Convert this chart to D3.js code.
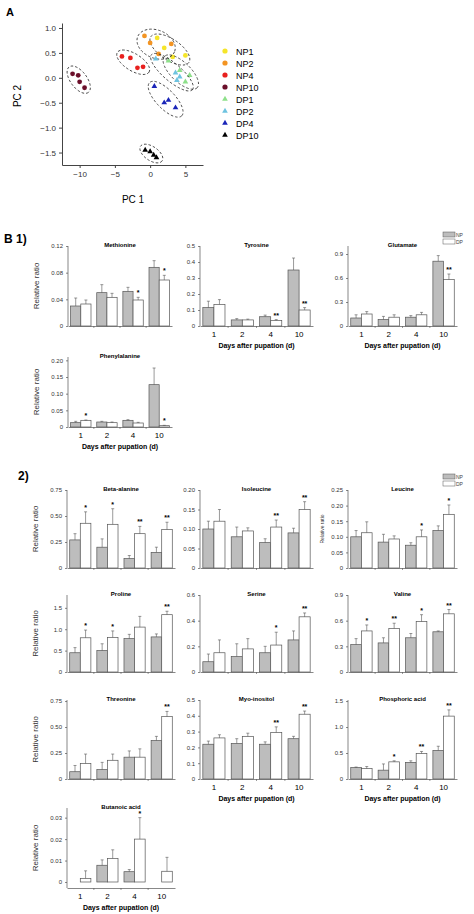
<!DOCTYPE html>
<html><head><meta charset="utf-8">
<script src="https://cdn.jsdelivr.net/npm/d3@7"></script>
<style>body{margin:0;background:#fff}text{font-family:Arial,"Liberation Sans",sans-serif}</style>
</head><body><svg id="c" width="474" height="914"></svg>
<script>
// PCA groups
const groups = ["NP1","NP2","NP4","NP10","DP1","DP2","DP4","DP10"];
const groupColors = ["#f5e52a","#f39422","#e8201e","#6b0f2a","#8ee08a","#6ec3e0","#1a25b8","#000000"];
const pcaPoints = [
  [[1,0.8],[2,0.6],[3.2,0.42],[5,0.45]],
  [[-0.8,0.84],[0,0.7],[1.2,0.48],[3,0.68]],
  [[-4,0.43],[-2.8,0.4],[-1.8,0.2],[-1,0.22]],
  [[-11,0.08],[-10.2,0.05],[-10,-0.08],[-9.3,-0.2]],
  [[2.6,0.34],[4.2,0.15],[5.6,0.05],[5,-0.08]],
  [[0.8,0.38],[3.6,0.1],[3.8,-0.05],[4.2,0.02]],
  [[0.6,-0.17],[2,-0.5],[2.6,-0.45],[3.6,-0.6]],
  [[-0.7,-1.45],[0,-1.48],[0.5,-1.55],[0.9,-1.6]]
];
const days = ["1","2","4","10"];

// bar panels: name, NP, NPerr, DP, DPerr, sig
const panels = [
  {name:"Methionine", np:[0.030,0.050,0.052,0.088], npe:[0.012,0.012,0.006,0.010], dp:[0.033,0.043,0.039,0.069], dpe:[0.006,0.006,0.004,0.007], sig:["","","*","*"], ticks:[0,0.04,0.08,0.12], max:0.12},
  {name:"Tyrosine", np:[0.115,0.038,0.058,0.35], npe:[0.04,0.008,0.01,0.075], dp:[0.135,0.038,0.035,0.10], dpe:[0.03,0.005,0.005,0.015], sig:["","","**","**"], ticks:[0,0.1,0.2,0.3,0.4,0.5], max:0.5},
  {name:"Glutamate", np:[0.10,0.08,0.11,0.81], npe:[0.04,0.04,0.02,0.07], dp:[0.15,0.11,0.14,0.58], dpe:[0.03,0.03,0.03,0.07], sig:["","","","**"], ticks:[0,0.3,0.6,0.9], max:1.0},
  {name:"Phenylalanine", np:[0.013,0.015,0.02,0.127], npe:[0.004,0.002,0.002,0.05], dp:[0.02,0.013,0.012,0.004], dpe:[0.001,0.002,0.002,0.001], sig:["*","","","*"], ticks:[0,0.05,0.10,0.15,0.20], max:0.21},
  {name:"Beta-alanine", np:[0.27,0.20,0.09,0.15], npe:[0.06,0.08,0.03,0.05], dp:[0.43,0.42,0.33,0.37], dpe:[0.11,0.15,0.07,0.07], sig:["*","*","**","**"], ticks:[0,0.25,0.5,0.75], max:0.75},
  {name:"Isoleucine", np:[0.10,0.08,0.065,0.09], npe:[0.02,0.025,0.01,0.012], dp:[0.12,0.095,0.105,0.15], dpe:[0.03,0.008,0.018,0.02], sig:["","","**","**"], ticks:[0,0.05,0.10,0.15,0.20], max:0.2},
  {name:"Leucine", np:[0.10,0.083,0.073,0.12], npe:[0.02,0.025,0.008,0.015], dp:[0.113,0.093,0.10,0.172], dpe:[0.035,0.01,0.022,0.03], sig:["","","*","*"], ticks:[0,0.05,0.10,0.15,0.20,0.25], max:0.25},
  {name:"Proline", np:[0.45,0.50,0.78,0.82], npe:[0.12,0.16,0.1,0.07], dp:[0.80,0.81,1.05,1.34], dpe:[0.18,0.15,0.25,0.08], sig:["*","*","","**"], ticks:[0,0.5,1.0,1.5], max:1.8},
  {name:"Serine", np:[0.08,0.12,0.15,0.25], npe:[0.06,0.1,0.05,0.07], dp:[0.15,0.18,0.21,0.43], dpe:[0.1,0.08,0.1,0.03], sig:["","","*","**"], ticks:[0,0.2,0.4,0.6], max:0.6},
  {name:"Valine", np:[0.32,0.34,0.40,0.47], npe:[0.07,0.06,0.05,0.01], dp:[0.48,0.51,0.59,0.68], dpe:[0.07,0.06,0.08,0.05], sig:["*","**","*","**"], ticks:[0,0.3,0.6,0.9], max:0.9},
  {name:"Threonine", np:[0.07,0.09,0.21,0.37], npe:[0.06,0.07,0.06,0.04], dp:[0.15,0.18,0.21,0.60], dpe:[0.09,0.06,0.08,0.05], sig:["","","","**"], ticks:[0,0.25,0.5,0.75], max:0.76},
  {name:"Myo-inositol", np:[0.22,0.225,0.22,0.255], npe:[0.02,0.03,0.015,0.015], dp:[0.26,0.27,0.295,0.41], dpe:[0.02,0.02,0.035,0.02], sig:["","","**","**"], ticks:[0,0.1,0.2,0.3,0.4,0.5], max:0.5},
  {name:"Phosphoric acid", np:[0.22,0.17,0.32,0.55], npe:[0.01,0.12,0.03,0.08], dp:[0.20,0.33,0.49,1.21], dpe:[0.04,0.02,0.04,0.12], sig:["","*","**","**"], ticks:[0,0.5,1.0,1.5], max:1.52},
  {name:"Butanoic acid", np:[0,0.0078,0.0048,0], npe:[0,0.0025,0.001,0], dp:[0.0017,0.011,0.02,0.005], dpe:[0.0035,0.004,0.01,0.0065], sig:["","","*",""], ticks:[0,0.01,0.02,0.03], max:0.0345, min:-0.0028}
];
// layout: [x0,x1,yTop,yBottom, showX, showYLabel]
const layout = [
  [68,172,246,326,false,true],[200,313,246,326,true,false],[348,457,246,326,true,false],
  [68,172,357,427,true,true],
  [67,175,490,568,false,true],[200,313,490,568,false,false],[348,457,490,568,false,true],
  [67,175,595,672,false,true],[200,313,595,672,false,false],[348,457,595,672,false,false],
  [67,175,700,779,false,true],[200,313,700,779,true,false],[348,457,700,779,true,false],
  [67,175,808,888,true,true]
];

const svg = d3.select("#c");

// ---- PCA
const x = d3.scaleLinear().domain([-12.5,7.5]).range([62,203]);
const y = d3.scaleLinear().domain([-1.75,1.1]).range([165,23]);
const gA = svg.append("g");
gA.append("g").attr("transform","translate(0,165)").call(d3.axisBottom(x).tickValues([-10,-5,0,5]).tickFormat(d=>d<0?"\u2212"+(-d):d).tickSize(3).tickSizeOuter(0));
gA.append("g").attr("transform","translate(62,0)").call(d3.axisLeft(y).tickValues([-1.5,-1,-0.5,0,0.5,1]).tickFormat(d=>(d<0?"\u2212":"")+Math.abs(d).toFixed(1)).tickSize(3).tickSizeOuter(0));
gA.selectAll(".tick text").attr("font-size",8).attr("fill","#333");
gA.selectAll(".domain,.tick line").attr("stroke","#444");
gA.append("text").attr("x",6).attr("y",16).attr("font-weight","bold").attr("font-size",11).text("A");
gA.append("text").attr("x",133).attr("y",203).attr("text-anchor","middle").attr("font-size",10).text("PC  1");
gA.append("text").attr("transform","translate(21,96) rotate(-90)").attr("text-anchor","middle").attr("font-size",10).text("PC  2");

pcaPoints.forEach((pts,gi)=>{
  const p = pts.map(d=>[x(d[0]),y(d[1])]);
  const cx = d3.mean(p,d=>d[0]), cy = d3.mean(p,d=>d[1]);
  let sxx=0,syy=0,sxy=0;
  p.forEach(d=>{const a=d[0]-cx,b=d[1]-cy;sxx+=a*a;syy+=b*b;sxy+=a*b;});
  const ang = 0.5*Math.atan2(2*sxy,sxx-syy);
  const ca=Math.cos(ang), sa=Math.sin(ang);
  const u = p.map(d=>Math.abs((d[0]-cx)*ca+(d[1]-cy)*sa));
  const v = p.map(d=>Math.abs(-(d[0]-cx)*sa+(d[1]-cy)*ca));
  gA.append("ellipse").attr("cx",cx).attr("cy",cy).attr("rx",d3.max(u)+6).attr("ry",d3.max(v)+6)
    .attr("transform",`rotate(${ang*180/Math.PI},${cx},${cy})`)
    .attr("fill","none").attr("stroke","#333").attr("stroke-width",0.8).attr("stroke-dasharray","2.5,2");
  const tri = gi>=4;
  p.forEach(d=>{
    if(tri) gA.append("path").attr("d",d3.symbol(d3.symbolTriangle,14)()).attr("transform",`translate(${d[0]},${d[1]})`).attr("fill",groupColors[gi]);
    else gA.append("circle").attr("cx",d[0]).attr("cy",d[1]).attr("r",2.4).attr("fill",groupColors[gi]);
  });
  const ly = 51+gi*12;
  if(tri) gA.append("path").attr("d",d3.symbol(d3.symbolTriangle,14)()).attr("transform",`translate(225,${ly})`).attr("fill",groupColors[gi]);
  else gA.append("circle").attr("cx",225).attr("cy",ly).attr("r",2.6).attr("fill",groupColors[gi]);
  gA.append("text").attr("x",236).attr("y",ly+3.5).attr("font-size",9).text(groups[gi]);
});

// ---- section labels
svg.append("text").attr("x",4).attr("y",243).attr("font-weight","bold").attr("font-size",12).text("B 1)");
svg.append("text").attr("x",18).attr("y",480).attr("font-weight","bold").attr("font-size",12).text("2)");
[[232],[474]].forEach(([ly])=>{
  [["NP","#bdbdbd"],["DP","#fff"]].forEach((s,i)=>{
    svg.append("rect").attr("x",443).attr("y",ly+i*7).attr("width",12).attr("height",5).attr("fill",s[1]).attr("stroke","#555").attr("stroke-width",0.5);
    svg.append("text").attr("x",456).attr("y",ly+i*7+4.5).attr("font-size",5).attr("fill","#444").text(s[0]);
  });
});

// ---- bar panels
panels.forEach((P,i)=>{
  const [x0,x1,yt,yb,showX,showY] = layout[i];
  const g = svg.append("g");
  const ys = d3.scaleLinear().domain([P.min||0,P.max]).range([yb,yt]);
  const xb = d3.scaleBand().domain(days).range([x0,x1]).paddingInner(0.22).paddingOuter(0.1);
  const xi = d3.scaleBand().domain(["np","dp"]).range([0,xb.bandwidth()]);
  const twoDec = P.ticks.some(t=>Math.round(t*100)%10!==0);
  const fmt = d=> d===0?"0":(twoDec? d.toFixed(2): d.toFixed(1));
  const ya = g.append("g").attr("transform",`translate(${x0},0)`).call(d3.axisLeft(ys).tickValues(P.ticks).tickFormat(fmt).tickSize(2).tickSizeOuter(0));
  ya.select(".domain").attr("d",`M-0,${yb}V${yt}`);
  g.append("g").attr("transform",`translate(0,${yb})`).call(d3.axisBottom(d3.scaleLinear().range([x0,x1])).tickValues([]).tickSizeOuter(0));
  days.slice(1).forEach(d=>g.append("line").attr("x1",xb(d)-xb.step()*xb.paddingInner()/2).attr("x2",xb(d)-xb.step()*xb.paddingInner()/2).attr("y1",yb).attr("y2",yb+2).attr("stroke","#555").attr("stroke-width",0.6));
  g.selectAll(".tick text").attr("font-size",6).attr("fill","#333");
  g.selectAll(".domain,.tick line").attr("stroke","#555").attr("stroke-width",0.7);
  g.append("text").attr("x",(x0+x1)/2).attr("y",yt+1).attr("text-anchor","middle").attr("font-size",6).attr("font-weight","bold").text(P.name);
  days.forEach((d,k)=>{
    [["np",P.np,P.npe,"#bdbdbd"],["dp",P.dp,P.dpe,"#fff"]].forEach(([key,v,e,col])=>{
      const bx = xb(d)+xi(key), bw = xi.bandwidth();
      const y0 = ys(0);
      g.append("rect").attr("x",bx).attr("y",Math.min(ys(v[k]),y0)).attr("width",bw).attr("height",Math.abs(y0-ys(v[k]))).attr("fill",col).attr("stroke","#555").attr("stroke-width",0.7);
      if(e[k]>0){
        const cx = bx+bw/2;
        g.append("line").attr("x1",cx).attr("x2",cx).attr("y1",ys(v[k])).attr("y2",ys(v[k]+e[k])).attr("stroke","#555").attr("stroke-width",0.6);
        g.append("line").attr("x1",cx-1.5).attr("x2",cx+1.5).attr("y1",ys(v[k]+e[k])).attr("y2",ys(v[k]+e[k])).attr("stroke","#555").attr("stroke-width",0.6);
      }
    });
    if(P.sig[k]) g.append("text").attr("x",xb(d)+xi("dp")+xi.bandwidth()/2).attr("y",ys(P.dp[k]+P.dpe[k])-2).attr("text-anchor","middle").attr("font-size",7).attr("font-weight","bold").text(P.sig[k]);
    if(showX) g.append("text").attr("x",xb(d)+xb.bandwidth()/2).attr("y",yb+11).attr("text-anchor","middle").attr("font-size",8).text(d);
  });
  if(showX) g.append("text").attr("x",(x0+x1)/2).attr("y",yb+22).attr("text-anchor","middle").attr("font-size",7).attr("font-weight","bold").text("Days after pupation (d)");
  if(showY) g.append("text").attr("transform",`translate(${x0-(i===6?24:29)},${(yt+yb)/2}) rotate(-90)`).attr("text-anchor","middle").attr("font-size",i===6?5:8).attr("fill","#333").text("Relative ratio");
});
</script></body></html>
